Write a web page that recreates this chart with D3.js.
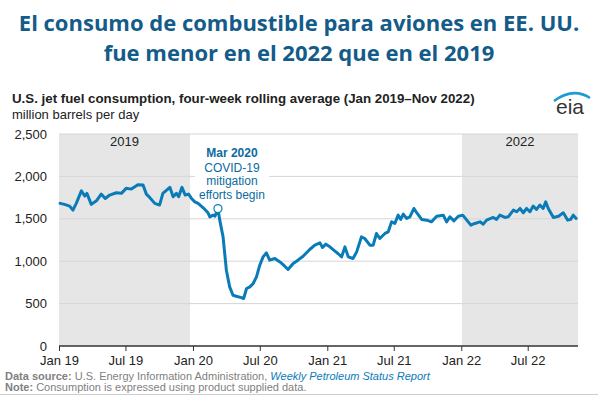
<!DOCTYPE html>
<html>
<head>
<meta charset="utf-8">
<script src="https://cdn.jsdelivr.net/npm/d3@7"></script>
<style>
  body { margin: 0; background: #fff; }
  svg { display: block; }
</style>
</head>
<body>
<script>

// weekly readings, million barrels per day
var dates = [
  "2019-01-04","2019-01-16","2019-01-30","2019-02-08","2019-02-17","2019-03-03","2019-03-12","2019-03-18",
  "2019-03-30","2019-04-13","2019-04-26","2019-05-07","2019-05-19","2019-06-06","2019-06-20","2019-07-03",
  "2019-07-17","2019-08-04","2019-08-18","2019-08-27","2019-09-05","2019-09-19","2019-10-02","2019-10-11",
  "2019-10-30","2019-11-08","2019-11-17","2019-11-23","2019-12-02","2019-12-11","2019-12-20","2019-12-28",
  "2020-01-06","2020-01-15","2020-01-29","2020-02-11","2020-02-16","2020-02-25","2020-03-01","2020-03-09",
  "2020-03-14","2020-03-23","2020-04-01","2020-04-10","2020-04-19","2020-04-28","2020-05-12","2020-05-18",
  "2020-05-26","2020-06-04","2020-06-13","2020-06-22","2020-07-01","2020-07-10","2020-07-19","2020-07-28",
  "2020-08-11","2020-08-25","2020-09-07","2020-09-16","2020-09-30","2020-10-13","2020-10-27","2020-11-14",
  "2020-11-28","2020-12-12","2020-12-19","2020-12-28","2021-01-08","2021-01-21","2021-01-30","2021-02-09",
  "2021-02-18","2021-02-27","2021-03-12","2021-03-22","2021-04-04","2021-04-13","2021-04-27","2021-05-06",
  "2021-05-15","2021-05-24","2021-06-07","2021-06-16","2021-06-25","2021-07-04","2021-07-13","2021-07-20",
  "2021-07-27","2021-08-05","2021-08-14","2021-08-25","2021-09-03","2021-09-15","2021-09-29","2021-10-12",
  "2021-10-26","2021-11-13","2021-11-22","2021-12-01","2021-12-12","2021-12-24","2022-01-05","2022-01-16",
  "2022-01-27","2022-02-07","2022-02-21","2022-03-02","2022-03-11","2022-03-29","2022-04-07","2022-04-16",
  "2022-04-30","2022-05-09","2022-05-23","2022-06-01","2022-06-10","2022-06-19","2022-06-28","2022-07-07",
  "2022-07-16","2022-07-25","2022-08-03","2022-08-12","2022-08-19","2022-08-26","2022-09-09","2022-09-23",
  "2022-10-06","2022-10-18","2022-10-26","2022-11-02","2022-11-10"
];
var consumption = [
  1682,1670,1650,1602,1682,1830,1768,1800,
  1670,1712,1791,1740,1780,1807,1800,1859,
  1850,1901,1898,1791,1752,1682,1662,1800,
  1871,1760,1800,1760,1871,1780,1791,1740,
  1700,1682,1630,1571,1523,1543,1530,1620,
  1484,1287,894,697,599,587,571,560,
  678,697,737,815,953,1051,1098,1012,
  1032,992,941,902,973,1012,1059,1138,
  1189,1216,1162,1201,1169,1122,1091,1051,
  1169,1051,1032,1110,1287,1268,1189,1189,
  1327,1268,1327,1346,1464,1445,1543,1493,
  1555,1504,1523,1622,1563,1493,1484,1464,
  1531,1543,1464,1523,1476,1531,1543,1484,
  1425,1445,1464,1437,1484,1516,1493,1543,
  1516,1523,1602,1583,1622,1571,1622,1583,
  1650,1610,1662,1622,1700,1622,1516,1531,
  1571,1484,1493,1543,1504
];

var yTicks = [0, 500, 1000, 1500, 2000, 2500];
var xTickDates = ["2019-01-01","2019-07-01","2020-01-01","2020-07-01","2021-01-01","2021-07-01","2022-01-01","2022-07-01"];
var xTickLabels = ["Jan 19","Jul 19","Jan 20","Jul 20","Jan 21","Jul 21","Jan 22","Jul 22"];
var bands = [
  {label: "2019", start: "2019-01-01", end: "2019-12-24"},
  {label: "2022", start: "2022-01-03", end: "2022-11-15"}
];
var markerDate = "2020-03-09";
var noteLines = ["COVID-19", "mitigation", "efforts begin"];

var W = 598, H = 395;
var margin = {top: 134, right: 20, bottom: 49, left: 59};
var width = W - margin.left - margin.right,
    height = H - margin.top - margin.bottom;

var parseDate = d3.timeParse("%Y-%m-%d");
var data = dates.map(function(d, i) { return {date: parseDate(d), value: consumption[i]}; });

var blue = "#0a7bb9";
var font = "'Liberation Sans', Arial, sans-serif";

var svg = d3.select("body").append("svg")
    .attr("width", W)
    .attr("height", H)
    .style("font-family", font);

// headline
var title = svg.append("text")
    .attr("text-anchor", "middle")
    .attr("fill", "#135c89")
    .style("font-family", "'Open Sans', Lato, sans-serif")
    .style("font-weight", "bold")
    .style("font-size", "22px");
title.append("tspan").attr("x", W / 2).attr("y", 31).text("El consumo de combustible para aviones en EE. UU.");
title.append("tspan").attr("x", W / 2).attr("y", 61).text("fue menor en el 2022 que en el 2019");

svg.append("text")
    .attr("x", 12).attr("y", 103)
    .attr("fill", "#222")
    .style("font-weight", "bold")
    .style("font-size", "13.3px")
    .text("U.S. jet fuel consumption, four-week rolling average (Jan 2019\u2013Nov 2022)");

svg.append("text")
    .attr("x", 12).attr("y", 119)
    .attr("fill", "#222")
    .style("font-size", "13px")
    .text("million barrels per day");

// eia logo
svg.append("path")
    .attr("d", "M554,101 Q573,87 590,98")
    .attr("fill", "none")
    .attr("stroke", "#1e9ad6")
    .attr("stroke-width", 2.6);
svg.append("text")
    .attr("x", 556).attr("y", 114)
    .attr("fill", "#333")
    .style("font-size", "21px")
    .text("eia");

var chart = svg.append("g")
    .attr("transform", "translate(" + margin.left + "," + margin.top + ")");

var x = d3.scaleTime()
    .domain([parseDate("2019-01-01"), parseDate("2022-11-15")])
    .range([0, width]);

var y = d3.scaleLinear()
    .domain([0, 2500])
    .range([height, 0]);

// shaded years
chart.selectAll(".band")
    .data(bands)
  .enter().append("rect")
    .attr("class", "band")
    .attr("x", function(d) { return x(parseDate(d.start)); })
    .attr("y", 0)
    .attr("width", function(d) { return x(parseDate(d.end)) - x(parseDate(d.start)); })
    .attr("height", height)
    .attr("fill", "#e6e6e6");

chart.selectAll(".band-label")
    .data(bands)
  .enter().append("text")
    .attr("x", function(d) { return (x(parseDate(d.start)) + x(parseDate(d.end))) / 2; })
    .attr("y", 12)
    .attr("text-anchor", "middle")
    .attr("fill", "#222")
    .style("font-size", "13px")
    .text(function(d) { return d.label; });

// gridlines
chart.selectAll(".grid")
    .data(yTicks.slice(1))
  .enter().append("line")
    .attr("x1", 0).attr("x2", width)
    .attr("y1", function(d) { return y(d); })
    .attr("y2", function(d) { return y(d); })
    .attr("stroke", "#d6d6d6")
    .attr("stroke-width", 1);

// y axis
var yAxis = chart.append("g")
    .call(d3.axisLeft(y).tickValues(yTicks).tickSize(0).tickPadding(12).tickFormat(d3.format(",")));
yAxis.select(".domain").remove();
yAxis.selectAll("text")
    .attr("fill", "#222")
    .style("font-family", font)
    .style("font-size", "13px");

// x axis
var xAxis = chart.append("g")
    .attr("transform", "translate(0," + height + ")")
    .call(d3.axisBottom(x)
      .tickValues(xTickDates.map(parseDate))
      .tickSize(5)
      .tickPadding(5)
      .tickFormat(function(d, i) { return xTickLabels[i]; }))
xAxis.select(".domain")
    .attr("d", "M0,0H" + width)
    .attr("stroke", "#333")
    .attr("stroke-width", 1.5);
xAxis.selectAll(".tick line").attr("stroke", "#333");
xAxis.selectAll("text")
    .attr("fill", "#222")
    .style("font-family", font)
    .style("font-size", "13px");

// annotation
var mx = x(parseDate(markerDate));
var noteX = mx + 14;
chart.append("rect")
    .attr("x", noteX - 37).attr("y", 40)
    .attr("width", 74).attr("height", 28)
    .attr("fill", "#fff");
chart.append("text")
    .attr("x", noteX).attr("y", 23)
    .attr("text-anchor", "middle")
    .attr("fill", "#0b6b9f")
    .style("font-weight", "bold")
    .style("font-size", "12px")
    .text("Mar 2020");
chart.selectAll(".note")
    .data(noteLines)
  .enter().append("text")
    .attr("x", noteX)
    .attr("y", function(d, i) { return 37.5 + i * 13.5; })
    .attr("text-anchor", "middle")
    .attr("fill", "#0b6b9f")
    .style("font-size", "12px")
    .text(function(d) { return d; });

// line
var line = d3.line()
    .x(function(d) { return x(d.date); })
    .y(function(d) { return y(d.value); });

chart.append("path")
    .datum(data)
    .attr("fill", "none")
    .attr("stroke", blue)
    .attr("stroke-width", 3)
    .attr("stroke-linejoin", "round")
    .attr("stroke-linecap", "round")
    .attr("d", line);

var mark = data.filter(function(d) { return +d.date === +parseDate(markerDate); })[0];
chart.append("circle")
    .attr("cx", x(mark.date))
    .attr("cy", y(mark.value))
    .attr("r", 4)
    .attr("fill", "#fff")
    .attr("stroke", blue)
    .attr("stroke-width", 1.2);

// footer
var src = svg.append("text")
    .attr("x", 5).attr("y", 380)
    .attr("fill", "#7f7f7f")
    .style("font-size", "11px");
src.append("tspan").style("font-weight", "bold").text("Data source: ");
src.append("tspan").text("U.S. Energy Information Administration, ");
src.append("tspan").attr("fill", blue).style("font-style", "italic").text("Weekly Petroleum Status Report");

var note = svg.append("text")
    .attr("x", 5).attr("y", 391)
    .attr("fill", "#7f7f7f")
    .style("font-size", "11px");
note.append("tspan").style("font-weight", "bold").text("Note: ");
note.append("tspan").text("Consumption is expressed using product supplied data.");

svg.append("line")
    .attr("x1", 0).attr("x2", W)
    .attr("y1", 394.5).attr("y2", 394.5)
    .attr("stroke", "#cccccc");

</script>
</body>
</html>
